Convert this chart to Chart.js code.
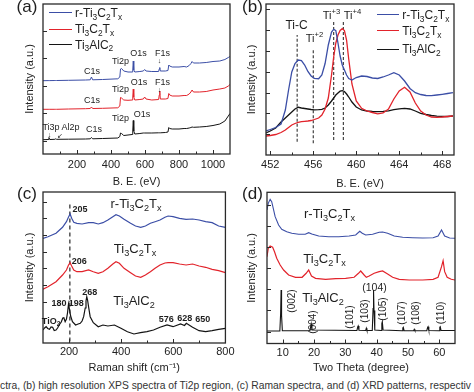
<!DOCTYPE html>
<html>
<head>
<meta charset="utf-8">
<script src="https://cdn.jsdelivr.net/npm/chart.js@4.4.1/dist/chart.umd.min.js"></script>
<style>
html, body { margin: 0; padding: 0; background: #fff; }
#fig { position: relative; width: 474px; height: 392px; overflow: hidden; font-family: 'Liberation Sans', Arial, sans-serif; color: #1e1e1e; }
#fig canvas { position: absolute; }
.lbl { position: absolute; line-height: 1; white-space: nowrap; transform: translate(-50%, -50%); }
.lbl.left { transform: translate(0, -50%); }
.lbl.rot { transform: translate(-50%, -50%) rotate(-90deg); }
.sb { font-size: 70%; position: relative; top: .35em; }
.sp { font-size: 70%; position: relative; top: -.55em; }
.key { position: absolute; height: 0; }
#caption { position: absolute; left: 0; top: 381px; font-size: 10.3px; line-height: 1; white-space: nowrap; color: #333; }
</style>
</head>
<body>
<div id="fig">
    <canvas id="pa" width="237" height="190" style="left:0;top:0"></canvas>
    <canvas id="pb" width="237" height="192" style="left:237px;top:0"></canvas>
    <canvas id="pc" width="237" height="186" style="left:0;top:190px"></canvas>
    <canvas id="pd" width="237" height="186" style="left:237px;top:190px"></canvas>
    <div id="caption">ctra, (b) high resolution XPS spectra of Ti2p region, (c) Raman spectra, and (d) XRD patterns, respectiv</div>
</div>
<script>
//#region data
// (a) XPS survey, binding energy (eV) vs intensity (offset, a.u.)
const aEnergy = [0, 30, 35, 40, 70, 75, 80, 150, 250, 278, 285, 292, 350, 440, 452, 456, 462, 475, 500, 524, 528, 531, 534, 540, 570, 590, 598, 606, 640, 680, 684, 687, 690, 720, 735, 740, 745, 760, 800, 830, 845, 860, 870, 877, 885, 920, 960, 1000, 1040, 1070, 1090, 1100];
const aRTiC = [73.3, 73.4, 73.4, 73.4, 73.5, 73.5, 73.5, 73.7, 74, 74.2, 77, 74.2, 74.5, 75.2, 77, 85, 85.5, 83, 82, 82, 84, 93, 84, 82, 82.5, 83, 84.5, 83, 82.5, 82.5, 85, 86.5, 83, 83, 83.5, 89, 88, 87, 87, 87.5, 87, 88.5, 90.5, 92.5, 91, 91, 91.5, 92.5, 93, 94.5, 96.5, 97.5];
const aTiC = [44.7, 44.7, 44.7, 44.7, 44.7, 44.7, 44.7, 45, 45.3, 45.5, 47, 45.5, 45.7, 46.2, 48, 56.5, 56, 54, 53.7, 54, 57, 65, 57, 54, 54.5, 55, 57, 55, 54, 54.5, 59, 63, 55, 55, 55.5, 60.5, 59, 58, 58, 58.5, 58.5, 60, 62, 64, 62, 62, 62.5, 64, 65, 66, 68, 69.5];
const aTiAlC = [14.3, 14.5, 16.5, 14.5, 14.7, 15.2, 14.7, 14.8, 15, 15.2, 16.5, 15.2, 15.5, 16, 17.5, 21, 20.5, 18.5, 19, 19.5, 23, 33.5, 23, 20, 20.5, 21, 21, 21, 21, 21.2, 21.2, 21.2, 21.2, 21.5, 22, 26.5, 25.5, 25, 25, 25.5, 25.5, 26, 26.5, 27, 26.7, 27, 27.5, 28.5, 30, 33, 38, 40.5];
const aTicks = [200, 400, 600, 800, 1000];
const aMinor = [100, 300, 500, 700, 900];
const aYTicks = [13, 40.7, 68, 95.7, 123.3];

// (b) Ti2p high resolution
const bEnergy = [451.6, 452, 452.5, 453, 453.4, 453.7, 454, 454.3, 454.6, 454.9, 455.2, 455.5, 455.8, 456.1, 456.5, 456.8, 457.1, 457.4, 457.7, 457.9, 458.1, 458.3, 458.5, 458.7, 458.9, 459.1, 459.3, 459.6, 460, 460.5, 461, 461.5, 462, 462.5, 463, 463.5, 464, 464.5, 465, 465.5, 466, 466.5, 467, 467.5, 468, 468.5, 469];
const bRTiC = [24, 25.5, 27.5, 31, 45, 65, 83, 91.5, 95, 94.3, 90, 83.5, 79, 76.7, 76.3, 80, 91.5, 110, 123, 125.7, 124.3, 112, 99, 90, 85, 80, 76.5, 75, 77.5, 79, 78.5, 77, 76.5, 78, 80, 82.3, 80, 74, 66.5, 62.3, 60.5, 59.5, 59.3, 60, 60.7, 61.5, 62.3];
const bTiC = [19, 19.5, 20.5, 22.5, 25, 27.5, 30, 31.5, 32.7, 33.3, 33.7, 34, 34.5, 35.5, 37, 40, 46, 57, 80, 98, 112, 120, 124.5, 126.3, 124.5, 115, 96, 71, 54, 46.7, 44, 42.5, 41.2, 42, 46, 56, 64, 67.7, 63, 52, 44, 40, 38, 37.7, 38, 38.5, 39];
const bTiAlC = [22, 24, 27, 33, 37, 40, 43, 46, 47.7, 47, 46.5, 46, 45.5, 45.2, 45.3, 45.7, 47, 50, 54, 57, 60, 62, 63.8, 64.3, 63.5, 61, 58, 53, 48, 45, 44, 43.5, 43.3, 43.6, 44.2, 45.3, 46.2, 46.7, 46, 44, 41.7, 40.5, 39.5, 38.8, 38.5, 38.5, 39];
const bTicks = [452, 456, 460, 464, 468];
const bMinor = [454, 458, 462, 466];
const bYTicks = [20.8, 41.6, 62.4, 83.2, 104, 124.8, 145.6];
// reference positions: Ti-C, Ti+2, Ti+3, Ti+4
const bRefEnergy = [454.5, 456, 457.9, 458.8];
const bRefTop = [120, 105, 135, 135];
const bRefBottom = [13.3, 11.7, 15, 15];

// (c) Raman
const cShift = [100, 119, 150, 175, 190, 198, 204, 210, 218, 230, 250, 275, 293, 312, 330, 349, 368, 380, 393, 411, 436, 455, 475, 493, 512, 530, 549, 568, 580, 599, 624, 649, 674, 699, 724, 749, 774, 800];
const cRTiC = [104.5, 106.3, 109.7, 115.7, 121.3, 126, 129, 124.7, 120.7, 119.7, 119, 120.3, 120.3, 119, 120.3, 123, 126.3, 128.3, 127, 123.7, 119.7, 117, 115.7, 117, 119.7, 121.3, 123, 125.7, 127, 126.3, 124.7, 123.7, 124, 123, 121.3, 120.3, 117, 115.7];
const cTiC = [53.7, 56.3, 61.3, 68, 73, 78, 80.3, 77, 73, 71.3, 71.3, 73, 71.3, 69.7, 71.3, 74.7, 79, 81.3, 79.7, 74.7, 70.3, 67, 65.7, 68, 71.3, 74.7, 78, 80, 80.3, 80.3, 79, 78, 79, 77, 75.7, 73.7, 72.3, 70.3];
const cShiftMax = [100, 106, 112, 118, 125, 131, 137, 143, 150, 156, 162, 170, 176, 180, 185, 190, 194, 198, 202, 206, 213, 225, 235, 243, 250, 256, 262, 265, 268, 271, 275, 281, 293, 312, 330, 349, 374, 399, 424, 449, 474, 499, 524, 549, 576, 599, 628, 643, 650, 674, 699, 724, 749, 774, 800];
const cTiAlC = [13, 15, 16.3, 14.5, 13.7, 16, 15.7, 12.5, 13, 15, 18, 21, 25, 25.3, 21.3, 24, 30, 39, 33, 27, 21.3, 18, 19, 19.7, 22, 26.3, 35, 42, 46.3, 43, 36, 26.3, 20.3, 16.3, 18, 17, 18, 14.7, 11.3, 9, 10.3, 11.3, 13, 15.7, 18, 16.3, 19, 17.5, 19.7, 15.7, 12.3, 11.3, 12.3, 13.7, 14.7];
const cTicks = [200, 400, 600, 800];
const cMinor = [300, 500, 700];
const cYTicks = [24.7, 41.3, 58, 74.7, 91.3, 108, 124.7, 141.3];
const cRefShift = 203;

// (d) XRD
const dAngleR = [5, 5.4, 6, 6.5, 7, 7.6, 8.7, 9.7, 11.3, 12.9, 15.1, 17.2, 18.3, 19.3, 21.5, 24.7, 27.9, 31.2, 33.3, 34.6, 35.4, 36.5, 38.7, 40.8, 41.9, 43.5, 45.6, 48.3, 51.5, 54.7, 58, 59.6, 60.7, 61.7, 63.3, 65];
const dRTiC = [133.5, 140.2, 144.2, 141.8, 135.2, 126.8, 118.5, 114.2, 111.8, 110.2, 109.2, 109.2, 110.8, 109.5, 107.5, 106.8, 106.8, 107.5, 108.5, 112.2, 110.2, 108.5, 109.2, 111.2, 111.5, 110.2, 107.5, 106.2, 105.8, 105.5, 105.8, 107.5, 113.5, 107.5, 105.5, 105.2];
const dAngle = [5, 5.4, 6, 6.8, 7.4, 8.1, 9.2, 10.3, 11.9, 14.1, 16.2, 17.5, 18.3, 19.2, 20.5, 23.7, 26.9, 30.1, 32.8, 34.2, 34.9, 36, 36.7, 37.6, 39.2, 40.8, 41.9, 43.5, 45.1, 47.2, 50.4, 54.7, 58, 59.6, 60.7, 61.2, 61.7, 62.5, 63.8, 65];
const dTiC = [86.8, 95.2, 97.5, 96.2, 91.8, 85.2, 78.5, 73.5, 68.5, 66.2, 66.2, 70.2, 73.5, 67.5, 65.2, 64.2, 64.8, 65.2, 66.2, 70.2, 72.5, 68.5, 66.2, 67.5, 70.2, 71.8, 72.5, 69.5, 66.2, 64.2, 63.5, 63.5, 64.2, 66.2, 76.8, 82.8, 71.8, 66.2, 64.2, 63.5];
const dAngleMax = [5, 9.1, 9.35, 9.5, 9.65, 9.9, 18.7, 18.95, 19.1, 19.35, 33.7, 33.95, 34.1, 34.35, 36.5, 36.7, 36.9, 38.6, 38.85, 39, 39.15, 39.4, 41.4, 41.65, 41.8, 42.05, 48.1, 48.35, 48.5, 48.75, 51.8, 52, 52.2, 56, 56.25, 56.4, 56.65, 59.9, 60.15, 60.3, 60.55, 65];
const dTiAlC = [12.5, 12.5, 30, 53.5, 28, 12.8, 12.8, 17, 19.5, 13.5, 13, 16.5, 17.5, 13.3, 13, 15.2, 13, 13, 35, 53.5, 33, 13.5, 13, 20, 21.8, 13.5, 12.8, 15.5, 16.2, 12.8, 12.8, 14.2, 12.8, 12.8, 16, 16.8, 13, 12.8, 16.2, 16.8, 13, 13];
const dTicks = [10, 20, 30, 40, 50, 60];
const dMinor = [15, 25, 35, 45, 55];
const dYTicks = [12, 33, 54, 75, 96, 117, 138];
//#endregion

const FONT = "'Liberation Sans', Arial, sans-serif";
const BLUE = '#3b4ea6';
const RED = '#e2232b';
const BLACK = '#141414';

// frame box + inward tick marks, like the original figure
function frameTicks(xMajor, xMinor, yMajor) {
    return {
        id: 'frameTicks',
        afterDatasetsDraw(chart) {
            const { ctx, chartArea: a, scales: { x, y } } = chart;
            ctx.save();
            ctx.strokeStyle = '#2a2a2a';
            ctx.lineWidth = 1;
            ctx.beginPath();
            xMajor.forEach(v => {
                const p = Math.round(x.getPixelForValue(v)) + 0.5;
                ctx.moveTo(p, a.bottom); ctx.lineTo(p, a.bottom - 4);
            });
            xMinor.forEach(v => {
                const p = Math.round(x.getPixelForValue(v)) + 0.5;
                ctx.moveTo(p, a.bottom); ctx.lineTo(p, a.bottom - 2.5);
            });
            yMajor.forEach(v => {
                const p = Math.round(y.getPixelForValue(v)) + 0.5;
                ctx.moveTo(a.left, p); ctx.lineTo(a.left + 4, p);
            });
            ctx.stroke();
            ctx.lineWidth = 1.3;
            ctx.strokeRect(a.left, a.top, a.right - a.left, a.bottom - a.top);
            ctx.restore();
        }
    };
}

function series(xs, ys, color, width, dash) {
    return {
        data: xs.map((v, i) => ({ x: v, y: ys[i] })),
        borderColor: color,
        borderWidth: width || 1,
        borderDash: dash || [],
        pointRadius: 0,
        tension: 0,
        fill: false
    };
}

function makeChart(id, o) {
    return new Chart(document.getElementById(id), {
        type: 'line',
        data: { datasets: o.datasets },
        options: {
            responsive: false,
            animation: false,
            devicePixelRatio: 1,
            events: [],
            layout: { padding: { top: o.padTop, right: o.padRight, left: 0, bottom: 0 } },
            plugins: { legend: { display: false }, tooltip: { enabled: false } },
            scales: {
                x: {
                    type: 'linear',
                    min: o.xMin,
                    max: o.xMax,
                    grid: { display: false, drawTicks: false },
                    border: { display: false },
                    ticks: {
                        font: { family: FONT, size: 11 },
                        color: '#222',
                        padding: o.xTickPad,
                        maxRotation: 0,
                        autoSkip: false,
                        callback: v => String(v)
                    },
                    afterBuildTicks: s => { s.ticks = o.xTicks.map(v => ({ value: v })); },
                    afterFit: s => { s.height = o.xHeight; },
                    title: {
                        display: true,
                        text: o.xTitle,
                        font: { family: FONT, size: 11 },
                        color: '#222',
                        padding: { top: 0, bottom: o.xTitlePad }
                    }
                },
                y: {
                    min: 0,
                    max: o.yMax,
                    grid: { display: false, drawTicks: false },
                    border: { display: false },
                    ticks: { display: false },
                    afterFit: s => { s.width = o.yWidth; },
                    title: {
                        display: true,
                        text: 'Intensity (a.u.)',
                        font: { family: FONT, size: 11 },
                        color: '#222',
                        padding: { top: o.yTitlePad, bottom: 0 }
                    }
                }
            }
        },
        plugins: [frameTicks(o.xTicks, o.xMinor, o.yTicks)]
    });
}

//#region charts
makeChart('pa', {
    datasets: [
        series(aEnergy, aRTiC, BLUE, 1),
        series(aEnergy, aTiC, RED, 1),
        series(aEnergy, aTiAlC, BLACK, 1)
    ],
    xMin: 0, xMax: 1100, xTicks: aTicks, xMinor: aMinor,
    yMax: 150, yTicks: aYTicks,
    xTitle: 'B. E. (eV)',
    padTop: 4, padRight: 7, yWidth: 43, xHeight: 36,
    xTickPad: 4, xTitlePad: 1, yTitlePad: 23
});

const bRefs = bRefEnergy.map((e, i) =>
    series([e, e], [bRefBottom[i], bRefTop[i]], '#333', 1.1, [3, 2]));

makeChart('pb', {
    datasets: [
        series(bEnergy, bRTiC, BLUE, 1.3),
        series(bEnergy, bTiC, RED, 1.3),
        series(bEnergy, bTiAlC, BLACK, 1.3)
    ].concat(bRefs),
    xMin: 451.6, xMax: 469.1, xTicks: bTicks, xMinor: bMinor,
    yMax: 151, yTicks: bYTicks,
    xTitle: 'B. E. (eV)',
    padTop: 4, padRight: 20, yWidth: 29, xHeight: 37,
    xTickPad: 3.5, xTitlePad: 1.4, yTitlePad: 8.4
});

makeChart('pc', {
    datasets: [
        series(cShift, cRTiC, BLUE, 1.2),
        series(cShift, cTiC, RED, 1.2),
        series(cShiftMax, cTiAlC, BLACK, 1.2),
        series([cRefShift, cRefShift], [1.5, 140], '#444', 1.4, [4, 3])
    ],
    xMin: 100, xMax: 800, xTicks: cTicks, xMinor: cMinor,
    yMax: 151, yTicks: cYTicks,
    xTitle: 'Raman shift (cm\u207B\u00B9)',
    padTop: 2, padRight: 7, yWidth: 43, xHeight: 33,
    xTickPad: 2.4, xTitlePad: 1, yTitlePad: 23
});

makeChart('pd', {
    datasets: [
        series(dAngleR, dRTiC, BLUE, 1.1),
        series(dAngle, dTiC, RED, 1.2),
        series(dAngleMax, dTiAlC, BLACK, 1.1)
    ],
    xMin: 5, xMax: 65, xTicks: dTicks, xMinor: dMinor,
    yMax: 151.2, yTicks: dYTicks,
    xTitle: 'Two Theta (degree)',
    padTop: 2.3, padRight: 19, yWidth: 30, xHeight: 32.5,
    xTickPad: 2.4, xTitlePad: 1.4, yTitlePad: 8.4
});
//#endregion

//#region labels
const sb = t => `<span class="sb">${t}</span>`;
const sp = t => `<span class="sp">${t}</span>`;
const R_TCT = `r-Ti${sb(3)}C${sb(2)}T${sb('x')}`;
const TCT = `Ti${sb(3)}C${sb(2)}T${sb('x')}`;
const TAC = `Ti${sb(3)}AlC${sb(2)}`;

// [html, x, y, size, kind]
const labels = [
    ['(a)', 27, 6, 17], ['(b)', 252.5, 6, 17], ['(c)', 27, 193, 17], ['(d)', 252.5, 193, 17],
    // (a) legend + peaks
    [R_TCT, 75, 13, 12, 'left'], [TCT, 75, 29, 12, 'left'], [TAC, 75, 44.5, 12, 'left'],
    ['C1s', 92, 70.5, 9], ['Ti2p', 120.5, 61, 9], ['O1s', 138.5, 53, 9], ['F1s', 162.5, 53, 9],
    ['C1s', 92, 100, 9], ['Ti2p', 120.5, 89, 9], ['O1s', 139, 82, 9], ['F1s', 162.5, 82, 9],
    ['Ti3p', 51, 126.5, 9], ['Al2p', 70.5, 126.5, 9], ['C1s', 94, 128.5, 9], ['Ti2p', 120.5, 118, 9], ['O1s', 142, 114, 9],
    ['\u2193', 159.5, 59.5, 7], ['\u2193', 159.5, 88.5, 7], ['\u2193', 49.5, 134, 7], ['\u2199', 60, 134.5, 7],
    // (b)
    ['Ti-C', 296.5, 24.5, 12], [`Ti${sp('+2')}`, 314.5, 37.7, 11], [`Ti${sp('+3')}`, 331.5, 14.7, 11], [`Ti${sp('+4')}`, 352.5, 14.7, 11],
    [R_TCT, 402.3, 15, 12, 'left'], [TCT, 402.3, 30.7, 12, 'left'], [TAC, 402.3, 49.3, 12, 'left'],
    // (c)
    [R_TCT, 136, 204, 13], [TCT, 135, 249, 13], [TAC, 134, 300.5, 13],
    ['205', 80, 209, 9, 'bold'], ['206', 79.3, 261, 9, 'bold'], ['268', 89.7, 292, 9, 'bold'],
    ['198', 76.3, 302.5, 9, 'bold'], ['180', 59, 302.5, 9, 'bold'], [`TiO${sb(2)}`, 51, 320.5, 9, 'bold'],
    ['576', 166.3, 319, 9, 'bold'], ['628', 184.8, 318, 9, 'bold'], ['650', 202.7, 319, 9, 'bold'],
    // (d)
    [R_TCT, 329.5, 213.5, 13], [TCT, 324.5, 259, 13], [TAC, 323, 297.5, 13],
    ['(002)', 291.5, 301, 10, 'rot'], ['(004)', 312.5, 321.5, 10, 'rot'], ['(101)', 350, 316.5, 10, 'rot'],
    ['(103)', 365, 311, 10, 'rot'], ['(104)', 374.5, 287, 10.5], ['(105)', 382.7, 308.5, 10, 'rot'],
    ['(107)', 402.3, 313, 10, 'rot'], ['(108)', 415.5, 313, 10, 'rot'], ['(110)', 440.5, 313, 10, 'rot']
];

const fig = document.getElementById('fig');
labels.forEach(([html, x, y, size, kind]) => {
    const d = document.createElement('div');
    d.className = 'lbl' + (kind === 'left' ? ' left' : kind === 'rot' ? ' rot' : '');
    if (kind === 'bold') d.style.fontWeight = 'bold';
    d.innerHTML = html;
    d.style.left = x + 'px';
    d.style.top = y + 'px';
    d.style.fontSize = size + 'px';
    fig.appendChild(d);
});

// legend line samples
const keys = [
    [49, 72, 12.7, BLUE], [49, 72, 29.3, RED], [49, 72, 44.3, BLACK],
    [377, 399, 15, BLUE], [377, 399, 30.7, RED], [377, 399, 49.3, BLACK]
];
keys.forEach(([x1, x2, y, c]) => {
    const k = document.createElement('div');
    k.className = 'key';
    k.style.left = x1 + 'px';
    k.style.width = (x2 - x1) + 'px';
    k.style.top = (y - 0.75) + 'px';
    k.style.borderTop = '1.5px solid ' + c;
    fig.appendChild(k);
});
//#endregion
</script>
</body>
</html>
